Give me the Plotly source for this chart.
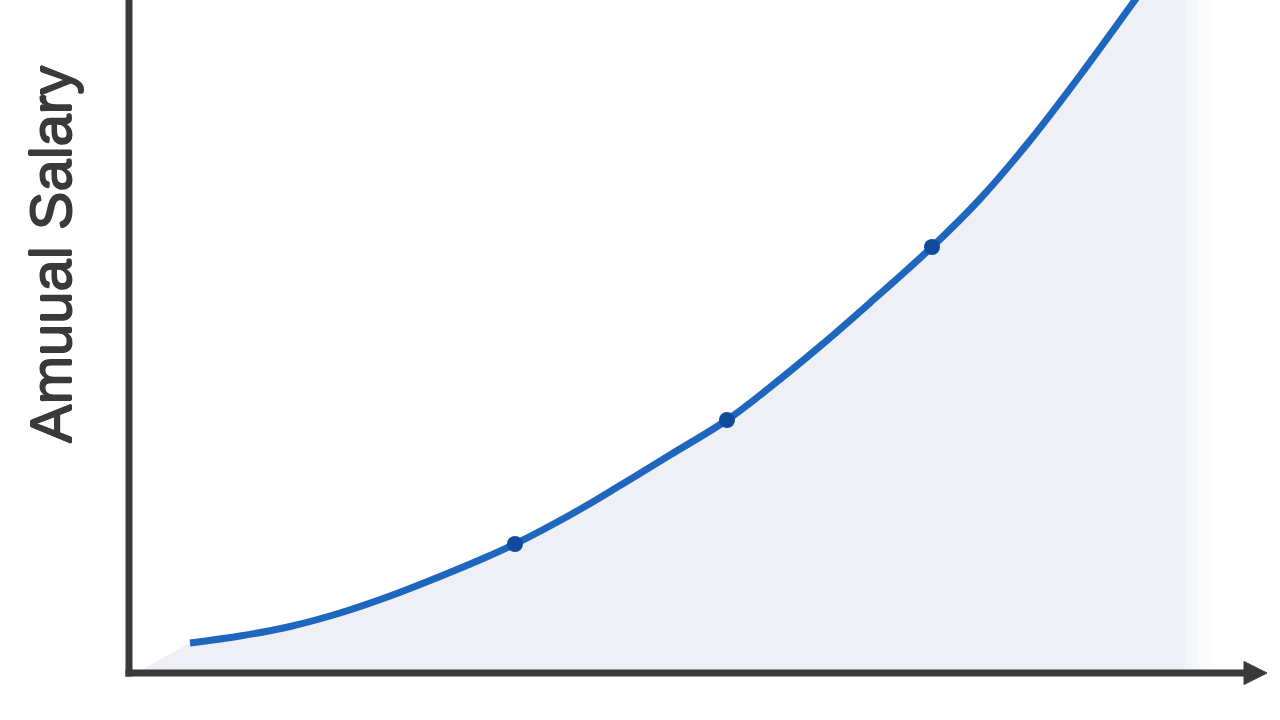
import plotly.graph_objects as go

# ---- data (experience in years-ish units, salary in $K-ish units) ----
experience = [0, 5, 10, 15, 20, 25, 30, 32.5, 38, 43, 48, 53.7, 58, 63, 68, 74.2, 79, 84, 89, 94.5, 95.5]
salary = [7.25, 9.0, 11.38, 14.75, 19.0, 23.88, 29.13, 32.0, 39.25, 46.63, 54.25, 63.0, 71.18,
          81.43, 92.3, 106.25, 118.25, 132.88, 149.13, 168.0, 171.5]
marker_experience = [32.5, 53.7, 74.2]
marker_salary = [32.0, 63.0, 106.25]
y_title = "Amuual Salary"

# ---- layout geometry (pixels) ----
W, H = 1280, 720
ML, MR, MT, MB = 128, 30, 0, 48
X_RANGE = [-6.2, 106]
Y_RANGE = [0, 168]
PW, PH = W - ML - MR, H - MT - MB

def px_x(p):
    return (p - ML) / PW

def px_y(p):
    return (H - MB - p) / PH

AXIS_COLOR = "#3a3a3a"
LINE_COLOR = "#1f66bf"
MARKER_COLOR = "#0f4a9c"
FILL_COLOR = "#eef0f5"

fig = go.Figure()

# shaded area under the curve
fill_x = [-5.0] + experience + [99.5, 99.5]
fill_y = [0.3] + salary + [salary[-1], 0.3]
fig.add_trace(go.Scatter(x=fill_x, y=fill_y, mode="lines", fill="toself",
                         fillcolor=FILL_COLOR, line=dict(width=0),
                         hoverinfo="skip", showlegend=False))

# fading right edge
fade_steps = [(99.5, 100.2, 0.75), (100.2, 100.9, 0.5), (100.9, 101.6, 0.28), (101.6, 102.3, 0.12)]
for x0, x1, op in fade_steps:
    fig.add_shape(type="rect", xref="x", yref="y", x0=x0, x1=x1, y0=0.3, y1=175,
                  fillcolor=FILL_COLOR, opacity=op, line=dict(width=0), layer="below")

# curve
fig.add_trace(go.Scatter(x=experience, y=salary, mode="lines",
                         line=dict(color=LINE_COLOR, width=7, shape="spline", smoothing=1.0),
                         hoverinfo="skip", showlegend=False))
# markers
fig.add_trace(go.Scatter(x=marker_experience, y=marker_salary, mode="markers",
                         marker=dict(color=MARKER_COLOR, size=16),
                         hoverinfo="skip", showlegend=False))

# axes lines
fig.add_shape(type="line", xref="paper", yref="paper",
              x0=px_x(129), x1=px_x(129), y0=px_y(676.5), y1=px_y(-5),
              line=dict(color=AXIS_COLOR, width=7))
fig.add_shape(type="line", xref="paper", yref="paper",
              x0=px_x(125.5), x1=px_x(1250), y0=px_y(673), y1=px_y(673),
              line=dict(color=AXIS_COLOR, width=7))
# arrow head
fig.add_shape(type="path", xref="paper", yref="paper",
              path="M {0},{1} L {2},{3} L {4},{5} Z".format(
                  px_x(1244), px_y(661.5), px_x(1267), px_y(673), px_x(1244), px_y(684.5)),
              fillcolor=AXIS_COLOR, line=dict(color=AXIS_COLOR, width=1))

fig.add_annotation(text=y_title, xref="paper", yref="paper",
                   x=px_x(50), y=px_y(255), textangle=-90, showarrow=False,
                   xanchor="center", yanchor="middle",
                   font=dict(family="Liberation Sans, Arial, sans-serif", size=58, color=AXIS_COLOR,
                             shadow="0.8px 0 0 #3a3a3a, -0.8px 0 0 #3a3a3a, 0 0.8px 0 #3a3a3a, 0 -0.8px 0 #3a3a3a"))

fig.update_xaxes(range=X_RANGE, visible=False, showgrid=False, zeroline=False)
fig.update_yaxes(range=Y_RANGE, visible=False, showgrid=False, zeroline=False)
fig.update_layout(width=W, height=H, margin=dict(l=ML, r=MR, t=MT, b=MB),
                  paper_bgcolor="white", plot_bgcolor="white", showlegend=False)

fig.write_html("out.html", config={"displayModeBar": False},
               post_script="document.body.style.margin='0px';")
